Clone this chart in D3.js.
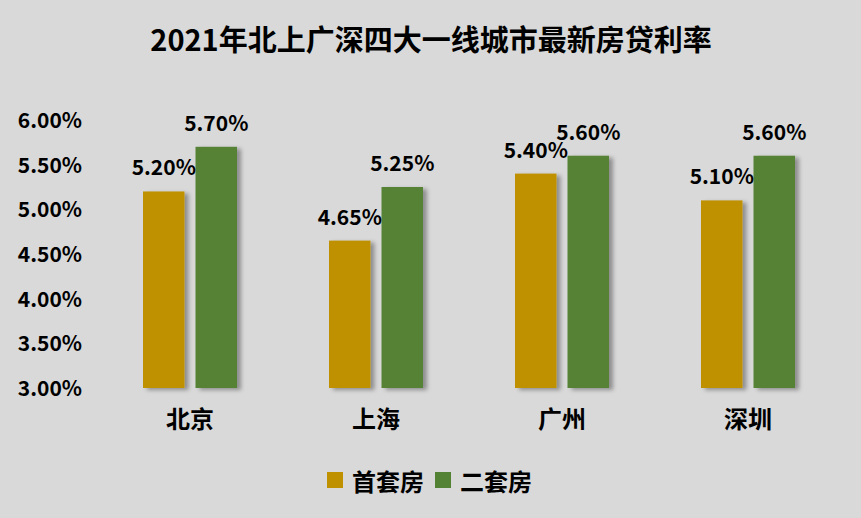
<!DOCTYPE html>
<html>
<head>
<meta charset="utf-8">
<script src="https://cdn.jsdelivr.net/npm/d3@7"></script>
<style>
  html, body { margin: 0; padding: 0; background: #d9d9d9; }
  svg { display: block; }
  text { font-family: "Noto Sans CJK SC", "Liberation Sans", sans-serif; font-weight: bold; fill: #000; }
</style>
</head>
<body>
<div id="chart"></div>
<script>
const cities = ["北京", "上海", "广州", "深圳"]
const seriesNames = ["首套房", "二套房"]
const firstHome = [5.20, 4.65, 5.40, 5.10]
const secondHome = [5.70, 5.25, 5.60, 5.60]
const yTicks = [3.0, 3.5, 4.0, 4.5, 5.0, 5.5, 6.0]
const colors = ["#bf9000", "#548235"]

const W = 861, H = 518

const svg = d3.select("#chart").append("svg")
    .attr("width", W)
    .attr("height", H)

svg.append("rect").attr("width", W).attr("height", H).attr("fill", "#d9d9d9")

const defs = svg.append("defs")
defs.append("filter")
    .attr("id", "shadow")
    .attr("x", "-20%").attr("y", "-10%").attr("width", "150%").attr("height", "120%")
    .append("feDropShadow")
    .attr("dx", 4).attr("dy", 2)
    .attr("stdDeviation", 2)
    .attr("flood-color", "#000")
    .attr("flood-opacity", 0.35)

const x = d3.scaleBand()
    .domain(cities)
    .range([97, 841])

const xSub = d3.scaleBand()
    .domain(seriesNames)
    .range([0, 94])
    .paddingInner(0.21)

const y = d3.scaleLinear()
    .domain([3, 6])
    .range([388, 120])

// title
svg.append("text")
    .attr("x", 431)
    .attr("y", 38)
    .attr("text-anchor", "middle")
    .attr("dominant-baseline", "central")
    .attr("font-size", 29)
    .text("2021年北上广深四大一线城市最新房贷利率")

// y axis labels, no axis line
const yAxis = svg.append("g")
    .attr("transform", "translate(82,0)")
    .call(d3.axisLeft(y).tickValues(yTicks).tickFormat(d => d.toFixed(2) + "%").tickSize(0).tickPadding(0))
yAxis.select(".domain").remove()
yAxis.selectAll("text")
    .attr("font-size", 21)
    .attr("font-family", null)
    .attr("dy", "0.35em")

// x axis labels
const xAxis = svg.append("g")
    .attr("transform", "translate(0,420)")
    .call(d3.axisBottom(x).tickSize(0).tickPadding(0))
xAxis.select(".domain").remove()
xAxis.selectAll("text")
    .attr("font-size", 24)
    .attr("font-family", null)
    .attr("dy", "0.35em")

const rows = cities.map((c, i) => ({
    city: c,
    values: [
        { name: seriesNames[0], value: firstHome[i], color: colors[0] },
        { name: seriesNames[1], value: secondHome[i], color: colors[1] }
    ]
}))

const groups = svg.selectAll(".group")
    .data(rows)
    .enter().append("g")
    .attr("class", "group")
    .attr("transform", d => `translate(${x(d.city) + x.bandwidth() / 2 - 47},0)`)

groups.selectAll("rect")
    .data(d => d.values)
    .enter().append("rect")
    .attr("x", d => xSub(d.name))
    .attr("y", d => y(d.value))
    .attr("width", xSub.bandwidth())
    .attr("height", d => y(3) - y(d.value))
    .attr("fill", d => d.color)
    .attr("filter", "url(#shadow)")

groups.selectAll(".label")
    .data(d => d.values)
    .enter().append("text")
    .attr("class", "label")
    .attr("x", d => xSub(d.name) + xSub.bandwidth() / 2)
    .attr("y", d => y(d.value) - 25)
    .attr("text-anchor", "middle")
    .attr("dominant-baseline", "central")
    .attr("font-size", 21)
    .text(d => d.value.toFixed(2) + "%")

// legend
const legend = svg.append("g").attr("transform", "translate(327,480)")
const legendX = [0, 108]
seriesNames.forEach((name, i) => {
    const g = legend.append("g").attr("transform", `translate(${legendX[i]},0)`)
    g.append("rect")
        .attr("x", 0).attr("y", -8)
        .attr("width", 16).attr("height", 16)
        .attr("fill", colors[i])
    g.append("text")
        .attr("x", 25)
        .attr("y", 0)
        .attr("dominant-baseline", "central")
        .attr("font-size", 24)
        .text(name)
})
</script>
</body>
</html>
